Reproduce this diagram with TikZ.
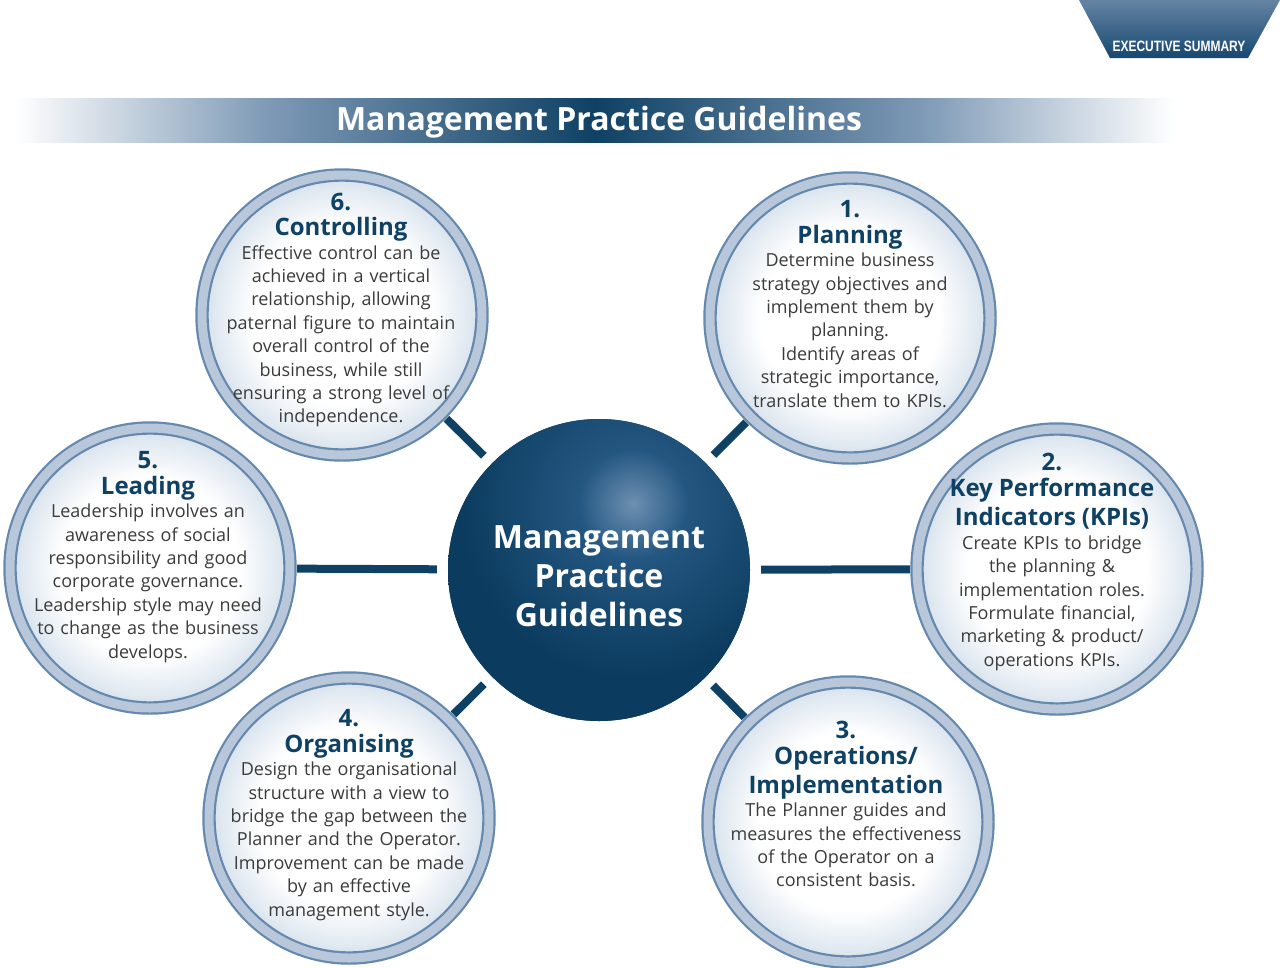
\documentclass[tikz,border=0pt]{standalone}
\usepackage{fontspec}
\setmainfont{Open Sans}
\newfontfamily\tabfont[FakeStretch=0.8]{Liberation Sans}
\usetikzlibrary{positioning}

\definecolor{navy}{HTML}{0F4164}
\definecolor{bodygray}{HTML}{3B3B3B}
\definecolor{ringline}{HTML}{6488AE}
\definecolor{ringband}{HTML}{B8C8DA}
\definecolor{ringtint}{HTML}{D6E1EC}
\definecolor{hubglow}{HTML}{6E90B2}
\definecolor{hubmid}{HTML}{235680}
\definecolor{hubedge}{HTML}{0B3B5E}
\definecolor{bandmid}{HTML}{7D99B5}
\definecolor{tabtop}{HTML}{6584A3}
\definecolor{tabbottom}{HTML}{174870}

% TikZ fits the middle 50bp of a shading to the path
\pgfdeclareradialshading{discshade}{\pgfpoint{0bp}{0bp}}{color(0bp)=(white); color(16bp)=(white); color(25bp)=(ringtint); color(50bp)=(ringtint)}
\pgfdeclareradialshading{hubshade}{\pgfpoint{0bp}{0bp}}{color(0bp)=(hubglow); color(6bp)=(hubmid); color(19bp)=(hubedge); color(50bp)=(hubedge)}
\pgfdeclarehorizontalshading{bandshade}{100bp}{color(0bp)=(white); color(25bp)=(white); color(36bp)=(bandmid); color(50bp)=(navy); color(64bp)=(bandmid); color(75bp)=(white); color(100bp)=(white)}

\newcommand{\stagehead}[1]{{\fontsize{24}{24}\selectfont\bfseries\color{navy}#1}}

\begin{document}
\begin{tikzpicture}[x=1pt,y=-1pt,
	disc/.style={circle,draw=ringline,line width=2.2pt,double=ringband,double distance=9pt,shade,shading=discshade,minimum size=280pt,inner sep=0pt},
	hub/.style={circle,fill=hubedge,minimum size=302pt,inner sep=0pt},
	blurb/.style={align=center,text width=260pt,text=bodygray,font=\fontsize{18}{23.4}\selectfont},
	bar/.style={draw=navy,line width=8pt,shorten <=11pt,shorten >=6pt}]
	\useasboundingbox (0,0) rectangle (1280,967);

	% header tab and banner
	\shade[top color=tabtop,bottom color=tabbottom] (1079,0) -- (1280,0) -- (1248,58) -- (1110,58) -- cycle;
	\node[text=white,font=\tabfont\bfseries\fontsize{15}{15}\selectfont] (tabtxt) at (1179,46) {EXECUTIVE SUMMARY};
	\shade[shading=bandshade] (15,98) rectangle (1175,142);
	\node[text=white,font=\fontsize{32}{32}\selectfont\bfseries] (bandtxt) at (599,122) {Management Practice Guidelines};

	% hub and the six stages
	\node[hub,path picture={\shade[shading=hubshade] ([xshift=34pt,yshift=66pt]path picture bounding box.center) circle (230pt);}] at (599,570) (hub) {};
	\node[text=white,align=center,font=\fontsize{32}{39}\selectfont\bfseries] at (599,576) (hubtxt) {Management\\Practice\\Guidelines};
	\node[disc] at (850,318) (plan) {};
	\node[disc] at (1057,569) (kpi) {};
	\node[disc] at (848,822) (oper) {};
	\node[disc] at (349,818) (organ) {};
	\node[disc] at (150,568) (lead) {};
	\node[disc] at (342,315) (control) {};

	\draw[bar] (hub) -- (plan);
	\draw[bar] (hub) -- (kpi);
	\draw[bar] (hub) -- (oper);
	\draw[bar] (hub) -- (organ);
	\draw[bar] (hub) -- (lead);
	\draw[bar] (hub) -- (control);

	\node[blurb] at (850,304) (plantxt) {\stagehead{1.\\[2pt]Planning}\\Determine business\\strategy objectives and\\implement them by\\planning.\\Identify areas of\\strategic importance,\\translate them to KPIs.};
	\node[blurb] at (1052,562) (kpitxt) {\stagehead{2.\\[2pt]Key Performance\\[4pt]Indicators (KPIs)}\\Create KPIs to bridge\\the planning \&\\implementation roles.\\Formulate financial,\\marketing \& product/\\operations KPIs.};
	\node[blurb] at (846,804) (opertxt) {\stagehead{3.\\[2pt]Operations/\\[4pt]Implementation}\\The Planner guides and\\measures the effectiveness\\of the Operator on a\\consistent basis.};
	\node[blurb] at (349,815) (organtxt) {\stagehead{4.\\[2pt]Organising}\\Design the organisational\\structure with a view to\\bridge the gap between the\\Planner and the Operator.\\Improvement can be made\\by an effective\\management style.};
	\node[blurb] at (148,557) (leadtxt) {\stagehead{5.\\[2pt]Leading}\\Leadership involves an\\awareness of social\\responsibility and good\\corporate governance.\\Leadership style may need\\to change as the business\\develops.};
	\node[blurb] at (341,310) (controltxt) {\stagehead{6.\\[2pt]Controlling}\\Effective control can be\\achieved in a vertical\\relationship, allowing\\paternal figure to maintain\\overall control of the\\business, while still\\ensuring a strong level of\\independence.};
\end{tikzpicture}
\end{document}
